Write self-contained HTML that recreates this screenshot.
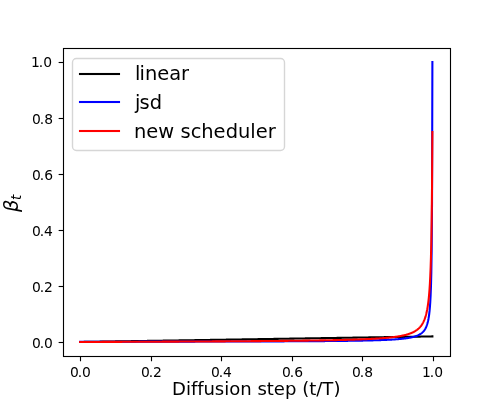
<!DOCTYPE html>
<html lang="en">
<head>
<meta charset="utf-8">
<title>Beta schedules</title>
<style>
html,body{margin:0;padding:0;background:#fff;}
body{width:500px;height:400px;overflow:hidden;}
svg{display:block;}
svg text{font-family:"DejaVu Sans", "Liberation Sans", sans-serif;fill:#000;font-variant-ligatures:none;}
.tk{font-size:13.889px;}
.lg{font-size:19.444px;}
</style>
</head>
<body>
<svg width="500" height="400" viewBox="0 0 500 400">
<rect x="0" y="0" width="500" height="400" fill="#fff"/>
<defs><clipPath id="ax"><rect x="62.5" y="48.0" width="387.5" height="308.0"/></clipPath></defs>
<g clip-path="url(#ax)" fill="none" stroke-width="2.083" stroke-linecap="square" stroke-linejoin="round">
<path d="M80.11 341.97 L80.47 341.97 L80.82 341.96 L81.17 341.96 L81.52 341.95 L81.88 341.94 L82.23 341.94 L82.58 341.93 L82.93 341.93 L83.29 341.92 L83.64 341.92 L83.99 341.91 L84.35 341.91 L84.70 341.90 L85.05 341.89 L85.40 341.89 L85.76 341.88 L86.11 341.88 L86.46 341.87 L86.81 341.87 L87.17 341.86 L87.52 341.86 L87.87 341.85 L88.22 341.84 L88.58 341.84 L88.93 341.83 L89.28 341.83 L89.63 341.82 L89.99 341.82 L90.34 341.81 L90.69 341.81 L91.05 341.80 L91.40 341.79 L91.75 341.79 L92.10 341.78 L92.46 341.78 L92.81 341.77 L93.16 341.77 L93.51 341.76 L93.87 341.76 L94.22 341.75 L94.57 341.74 L94.92 341.74 L95.28 341.73 L95.63 341.73 L95.98 341.72 L96.33 341.72 L96.69 341.71 L97.04 341.70 L97.39 341.70 L97.74 341.69 L98.10 341.69 L98.45 341.68 L98.80 341.68 L99.16 341.67 L99.51 341.67 L99.86 341.66 L100.21 341.65 L100.57 341.65 L100.92 341.64 L101.27 341.64 L101.62 341.63 L101.98 341.63 L102.33 341.62 L102.68 341.62 L103.03 341.61 L103.39 341.60 L103.74 341.60 L104.09 341.59 L104.44 341.59 L104.80 341.58 L105.15 341.58 L105.50 341.57 L105.86 341.57 L106.21 341.56 L106.56 341.55 L106.91 341.55 L107.27 341.54 L107.62 341.54 L107.97 341.53 L108.32 341.53 L108.68 341.52 L109.03 341.52 L109.38 341.51 L109.73 341.50 L110.09 341.50 L110.44 341.49 L110.79 341.49 L111.14 341.48 L111.50 341.48 L111.85 341.47 L112.20 341.47 L112.56 341.46 L112.91 341.45 L113.26 341.45 L113.61 341.44 L113.97 341.44 L114.32 341.43 L114.67 341.43 L115.02 341.42 L115.38 341.41 L115.73 341.41 L116.08 341.40 L116.43 341.40 L116.79 341.39 L117.14 341.39 L117.49 341.38 L117.84 341.38 L118.20 341.37 L118.55 341.36 L118.90 341.36 L119.26 341.35 L119.61 341.35 L119.96 341.34 L120.31 341.34 L120.67 341.33 L121.02 341.33 L121.37 341.32 L121.72 341.31 L122.08 341.31 L122.43 341.30 L122.78 341.30 L123.13 341.29 L123.49 341.29 L123.84 341.28 L124.19 341.28 L124.54 341.27 L124.90 341.26 L125.25 341.26 L125.60 341.25 L125.95 341.25 L126.31 341.24 L126.66 341.24 L127.01 341.23 L127.37 341.23 L127.72 341.22 L128.07 341.21 L128.42 341.21 L128.78 341.20 L129.13 341.20 L129.48 341.19 L129.83 341.19 L130.19 341.18 L130.54 341.18 L130.89 341.17 L131.24 341.16 L131.60 341.16 L131.95 341.15 L132.30 341.15 L132.65 341.14 L133.01 341.14 L133.36 341.13 L133.71 341.12 L134.07 341.12 L134.42 341.11 L134.77 341.11 L135.12 341.10 L135.48 341.10 L135.83 341.09 L136.18 341.09 L136.53 341.08 L136.89 341.07 L137.24 341.07 L137.59 341.06 L137.94 341.06 L138.30 341.05 L138.65 341.05 L139.00 341.04 L139.35 341.04 L139.71 341.03 L140.06 341.02 L140.41 341.02 L140.77 341.01 L141.12 341.01 L141.47 341.00 L141.82 341.00 L142.18 340.99 L142.53 340.99 L142.88 340.98 L143.23 340.97 L143.59 340.97 L143.94 340.96 L144.29 340.96 L144.64 340.95 L145.00 340.95 L145.35 340.94 L145.70 340.94 L146.05 340.93 L146.41 340.92 L146.76 340.92 L147.11 340.91 L147.47 340.91 L147.82 340.90 L148.17 340.90 L148.52 340.89 L148.88 340.89 L149.23 340.88 L149.58 340.87 L149.93 340.87 L150.29 340.86 L150.64 340.86 L150.99 340.85 L151.34 340.85 L151.70 340.84 L152.05 340.83 L152.40 340.83 L152.75 340.82 L153.11 340.82 L153.46 340.81 L153.81 340.81 L154.16 340.80 L154.52 340.80 L154.87 340.79 L155.22 340.78 L155.58 340.78 L155.93 340.77 L156.28 340.77 L156.63 340.76 L156.99 340.76 L157.34 340.75 L157.69 340.75 L158.04 340.74 L158.40 340.73 L158.75 340.73 L159.10 340.72 L159.45 340.72 L159.81 340.71 L160.16 340.71 L160.51 340.70 L160.86 340.70 L161.22 340.69 L161.57 340.68 L161.92 340.68 L162.28 340.67 L162.63 340.67 L162.98 340.66 L163.33 340.66 L163.69 340.65 L164.04 340.65 L164.39 340.64 L164.74 340.63 L165.10 340.63 L165.45 340.62 L165.80 340.62 L166.15 340.61 L166.51 340.61 L166.86 340.60 L167.21 340.60 L167.56 340.59 L167.92 340.58 L168.27 340.58 L168.62 340.57 L168.98 340.57 L169.33 340.56 L169.68 340.56 L170.03 340.55 L170.39 340.54 L170.74 340.54 L171.09 340.53 L171.44 340.53 L171.80 340.52 L172.15 340.52 L172.50 340.51 L172.85 340.51 L173.21 340.50 L173.56 340.49 L173.91 340.49 L174.26 340.48 L174.62 340.48 L174.97 340.47 L175.32 340.47 L175.68 340.46 L176.03 340.46 L176.38 340.45 L176.73 340.44 L177.09 340.44 L177.44 340.43 L177.79 340.43 L178.14 340.42 L178.50 340.42 L178.85 340.41 L179.20 340.41 L179.55 340.40 L179.91 340.39 L180.26 340.39 L180.61 340.38 L180.96 340.38 L181.32 340.37 L181.67 340.37 L182.02 340.36 L182.37 340.36 L182.73 340.35 L183.08 340.34 L183.43 340.34 L183.79 340.33 L184.14 340.33 L184.49 340.32 L184.84 340.32 L185.20 340.31 L185.55 340.30 L185.90 340.30 L186.25 340.29 L186.61 340.29 L186.96 340.28 L187.31 340.28 L187.66 340.27 L188.02 340.27 L188.37 340.26 L188.72 340.25 L189.07 340.25 L189.43 340.24 L189.78 340.24 L190.13 340.23 L190.49 340.23 L190.84 340.22 L191.19 340.22 L191.54 340.21 L191.90 340.20 L192.25 340.20 L192.60 340.19 L192.95 340.19 L193.31 340.18 L193.66 340.18 L194.01 340.17 L194.36 340.17 L194.72 340.16 L195.07 340.15 L195.42 340.15 L195.77 340.14 L196.13 340.14 L196.48 340.13 L196.83 340.13 L197.19 340.12 L197.54 340.12 L197.89 340.11 L198.24 340.10 L198.60 340.10 L198.95 340.09 L199.30 340.09 L199.65 340.08 L200.01 340.08 L200.36 340.07 L200.71 340.07 L201.06 340.06 L201.42 340.05 L201.77 340.05 L202.12 340.04 L202.47 340.04 L202.83 340.03 L203.18 340.03 L203.53 340.02 L203.89 340.01 L204.24 340.01 L204.59 340.00 L204.94 340.00 L205.30 339.99 L205.65 339.99 L206.00 339.98 L206.35 339.98 L206.71 339.97 L207.06 339.96 L207.41 339.96 L207.76 339.95 L208.12 339.95 L208.47 339.94 L208.82 339.94 L209.17 339.93 L209.53 339.93 L209.88 339.92 L210.23 339.91 L210.59 339.91 L210.94 339.90 L211.29 339.90 L211.64 339.89 L212.00 339.89 L212.35 339.88 L212.70 339.88 L213.05 339.87 L213.41 339.86 L213.76 339.86 L214.11 339.85 L214.46 339.85 L214.82 339.84 L215.17 339.84 L215.52 339.83 L215.87 339.83 L216.23 339.82 L216.58 339.81 L216.93 339.81 L217.28 339.80 L217.64 339.80 L217.99 339.79 L218.34 339.79 L218.70 339.78 L219.05 339.78 L219.40 339.77 L219.75 339.76 L220.11 339.76 L220.46 339.75 L220.81 339.75 L221.16 339.74 L221.52 339.74 L221.87 339.73 L222.22 339.72 L222.57 339.72 L222.93 339.71 L223.28 339.71 L223.63 339.70 L223.98 339.70 L224.34 339.69 L224.69 339.69 L225.04 339.68 L225.40 339.67 L225.75 339.67 L226.10 339.66 L226.45 339.66 L226.81 339.65 L227.16 339.65 L227.51 339.64 L227.86 339.64 L228.22 339.63 L228.57 339.62 L228.92 339.62 L229.27 339.61 L229.63 339.61 L229.98 339.60 L230.33 339.60 L230.68 339.59 L231.04 339.59 L231.39 339.58 L231.74 339.57 L232.10 339.57 L232.45 339.56 L232.80 339.56 L233.15 339.55 L233.51 339.55 L233.86 339.54 L234.21 339.54 L234.56 339.53 L234.92 339.52 L235.27 339.52 L235.62 339.51 L235.97 339.51 L236.33 339.50 L236.68 339.50 L237.03 339.49 L237.38 339.49 L237.74 339.48 L238.09 339.47 L238.44 339.47 L238.80 339.46 L239.15 339.46 L239.50 339.45 L239.85 339.45 L240.21 339.44 L240.56 339.43 L240.91 339.43 L241.26 339.42 L241.62 339.42 L241.97 339.41 L242.32 339.41 L242.67 339.40 L243.03 339.40 L243.38 339.39 L243.73 339.38 L244.08 339.38 L244.44 339.37 L244.79 339.37 L245.14 339.36 L245.49 339.36 L245.85 339.35 L246.20 339.35 L246.55 339.34 L246.91 339.33 L247.26 339.33 L247.61 339.32 L247.96 339.32 L248.32 339.31 L248.67 339.31 L249.02 339.30 L249.37 339.30 L249.73 339.29 L250.08 339.28 L250.43 339.28 L250.78 339.27 L251.14 339.27 L251.49 339.26 L251.84 339.26 L252.19 339.25 L252.55 339.25 L252.90 339.24 L253.25 339.23 L253.61 339.23 L253.96 339.22 L254.31 339.22 L254.66 339.21 L255.02 339.21 L255.37 339.20 L255.72 339.20 L256.07 339.19 L256.43 339.18 L256.78 339.18 L257.13 339.17 L257.48 339.17 L257.84 339.16 L258.19 339.16 L258.54 339.15 L258.89 339.14 L259.25 339.14 L259.60 339.13 L259.95 339.13 L260.31 339.12 L260.66 339.12 L261.01 339.11 L261.36 339.11 L261.72 339.10 L262.07 339.09 L262.42 339.09 L262.77 339.08 L263.13 339.08 L263.48 339.07 L263.83 339.07 L264.18 339.06 L264.54 339.06 L264.89 339.05 L265.24 339.04 L265.59 339.04 L265.95 339.03 L266.30 339.03 L266.65 339.02 L267.01 339.02 L267.36 339.01 L267.71 339.01 L268.06 339.00 L268.42 338.99 L268.77 338.99 L269.12 338.98 L269.47 338.98 L269.83 338.97 L270.18 338.97 L270.53 338.96 L270.88 338.96 L271.24 338.95 L271.59 338.94 L271.94 338.94 L272.29 338.93 L272.65 338.93 L273.00 338.92 L273.35 338.92 L273.70 338.91 L274.06 338.91 L274.41 338.90 L274.76 338.89 L275.12 338.89 L275.47 338.88 L275.82 338.88 L276.17 338.87 L276.53 338.87 L276.88 338.86 L277.23 338.85 L277.58 338.85 L277.94 338.84 L278.29 338.84 L278.64 338.83 L278.99 338.83 L279.35 338.82 L279.70 338.82 L280.05 338.81 L280.40 338.80 L280.76 338.80 L281.11 338.79 L281.46 338.79 L281.82 338.78 L282.17 338.78 L282.52 338.77 L282.87 338.77 L283.23 338.76 L283.58 338.75 L283.93 338.75 L284.28 338.74 L284.64 338.74 L284.99 338.73 L285.34 338.73 L285.69 338.72 L286.05 338.72 L286.40 338.71 L286.75 338.70 L287.10 338.70 L287.46 338.69 L287.81 338.69 L288.16 338.68 L288.52 338.68 L288.87 338.67 L289.22 338.67 L289.57 338.66 L289.93 338.65 L290.28 338.65 L290.63 338.64 L290.98 338.64 L291.34 338.63 L291.69 338.63 L292.04 338.62 L292.39 338.61 L292.75 338.61 L293.10 338.60 L293.45 338.60 L293.80 338.59 L294.16 338.59 L294.51 338.58 L294.86 338.58 L295.22 338.57 L295.57 338.56 L295.92 338.56 L296.27 338.55 L296.63 338.55 L296.98 338.54 L297.33 338.54 L297.68 338.53 L298.04 338.53 L298.39 338.52 L298.74 338.51 L299.09 338.51 L299.45 338.50 L299.80 338.50 L300.15 338.49 L300.50 338.49 L300.86 338.48 L301.21 338.48 L301.56 338.47 L301.91 338.46 L302.27 338.46 L302.62 338.45 L302.97 338.45 L303.33 338.44 L303.68 338.44 L304.03 338.43 L304.38 338.43 L304.74 338.42 L305.09 338.41 L305.44 338.41 L305.79 338.40 L306.15 338.40 L306.50 338.39 L306.85 338.39 L307.20 338.38 L307.56 338.38 L307.91 338.37 L308.26 338.36 L308.61 338.36 L308.97 338.35 L309.32 338.35 L309.67 338.34 L310.03 338.34 L310.38 338.33 L310.73 338.32 L311.08 338.32 L311.44 338.31 L311.79 338.31 L312.14 338.30 L312.49 338.30 L312.85 338.29 L313.20 338.29 L313.55 338.28 L313.90 338.27 L314.26 338.27 L314.61 338.26 L314.96 338.26 L315.31 338.25 L315.67 338.25 L316.02 338.24 L316.37 338.24 L316.73 338.23 L317.08 338.22 L317.43 338.22 L317.78 338.21 L318.14 338.21 L318.49 338.20 L318.84 338.20 L319.19 338.19 L319.55 338.19 L319.90 338.18 L320.25 338.17 L320.60 338.17 L320.96 338.16 L321.31 338.16 L321.66 338.15 L322.01 338.15 L322.37 338.14 L322.72 338.14 L323.07 338.13 L323.43 338.12 L323.78 338.12 L324.13 338.11 L324.48 338.11 L324.84 338.10 L325.19 338.10 L325.54 338.09 L325.89 338.09 L326.25 338.08 L326.60 338.07 L326.95 338.07 L327.30 338.06 L327.66 338.06 L328.01 338.05 L328.36 338.05 L328.71 338.04 L329.07 338.03 L329.42 338.03 L329.77 338.02 L330.13 338.02 L330.48 338.01 L330.83 338.01 L331.18 338.00 L331.54 338.00 L331.89 337.99 L332.24 337.98 L332.59 337.98 L332.95 337.97 L333.30 337.97 L333.65 337.96 L334.00 337.96 L334.36 337.95 L334.71 337.95 L335.06 337.94 L335.41 337.93 L335.77 337.93 L336.12 337.92 L336.47 337.92 L336.82 337.91 L337.18 337.91 L337.53 337.90 L337.88 337.90 L338.24 337.89 L338.59 337.88 L338.94 337.88 L339.29 337.87 L339.65 337.87 L340.00 337.86 L340.35 337.86 L340.70 337.85 L341.06 337.85 L341.41 337.84 L341.76 337.83 L342.11 337.83 L342.47 337.82 L342.82 337.82 L343.17 337.81 L343.52 337.81 L343.88 337.80 L344.23 337.80 L344.58 337.79 L344.94 337.78 L345.29 337.78 L345.64 337.77 L345.99 337.77 L346.35 337.76 L346.70 337.76 L347.05 337.75 L347.40 337.74 L347.76 337.74 L348.11 337.73 L348.46 337.73 L348.81 337.72 L349.17 337.72 L349.52 337.71 L349.87 337.71 L350.22 337.70 L350.58 337.69 L350.93 337.69 L351.28 337.68 L351.64 337.68 L351.99 337.67 L352.34 337.67 L352.69 337.66 L353.05 337.66 L353.40 337.65 L353.75 337.64 L354.10 337.64 L354.46 337.63 L354.81 337.63 L355.16 337.62 L355.51 337.62 L355.87 337.61 L356.22 337.61 L356.57 337.60 L356.92 337.59 L357.28 337.59 L357.63 337.58 L357.98 337.58 L358.34 337.57 L358.69 337.57 L359.04 337.56 L359.39 337.56 L359.75 337.55 L360.10 337.54 L360.45 337.54 L360.80 337.53 L361.16 337.53 L361.51 337.52 L361.86 337.52 L362.21 337.51 L362.57 337.51 L362.92 337.50 L363.27 337.49 L363.62 337.49 L363.98 337.48 L364.33 337.48 L364.68 337.47 L365.03 337.47 L365.39 337.46 L365.74 337.45 L366.09 337.45 L366.45 337.44 L366.80 337.44 L367.15 337.43 L367.50 337.43 L367.86 337.42 L368.21 337.42 L368.56 337.41 L368.91 337.40 L369.27 337.40 L369.62 337.39 L369.97 337.39 L370.32 337.38 L370.68 337.38 L371.03 337.37 L371.38 337.37 L371.73 337.36 L372.09 337.35 L372.44 337.35 L372.79 337.34 L373.15 337.34 L373.50 337.33 L373.85 337.33 L374.20 337.32 L374.56 337.32 L374.91 337.31 L375.26 337.30 L375.61 337.30 L375.97 337.29 L376.32 337.29 L376.67 337.28 L377.02 337.28 L377.38 337.27 L377.73 337.27 L378.08 337.26 L378.43 337.25 L378.79 337.25 L379.14 337.24 L379.49 337.24 L379.85 337.23 L380.20 337.23 L380.55 337.22 L380.90 337.22 L381.26 337.21 L381.61 337.20 L381.96 337.20 L382.31 337.19 L382.67 337.19 L383.02 337.18 L383.37 337.18 L383.72 337.17 L384.08 337.16 L384.43 337.16 L384.78 337.15 L385.13 337.15 L385.49 337.14 L385.84 337.14 L386.19 337.13 L386.55 337.13 L386.90 337.12 L387.25 337.11 L387.60 337.11 L387.96 337.10 L388.31 337.10 L388.66 337.09 L389.01 337.09 L389.37 337.08 L389.72 337.08 L390.07 337.07 L390.42 337.06 L390.78 337.06 L391.13 337.05 L391.48 337.05 L391.83 337.04 L392.19 337.04 L392.54 337.03 L392.89 337.03 L393.24 337.02 L393.60 337.01 L393.95 337.01 L394.30 337.00 L394.66 337.00 L395.01 336.99 L395.36 336.99 L395.71 336.98 L396.07 336.98 L396.42 336.97 L396.77 336.96 L397.12 336.96 L397.48 336.95 L397.83 336.95 L398.18 336.94 L398.53 336.94 L398.89 336.93 L399.24 336.92 L399.59 336.92 L399.94 336.91 L400.30 336.91 L400.65 336.90 L401.00 336.90 L401.36 336.89 L401.71 336.89 L402.06 336.88 L402.41 336.87 L402.77 336.87 L403.12 336.86 L403.47 336.86 L403.82 336.85 L404.18 336.85 L404.53 336.84 L404.88 336.84 L405.23 336.83 L405.59 336.82 L405.94 336.82 L406.29 336.81 L406.64 336.81 L407.00 336.80 L407.35 336.80 L407.70 336.79 L408.06 336.79 L408.41 336.78 L408.76 336.77 L409.11 336.77 L409.47 336.76 L409.82 336.76 L410.17 336.75 L410.52 336.75 L410.88 336.74 L411.23 336.74 L411.58 336.73 L411.93 336.72 L412.29 336.72 L412.64 336.71 L412.99 336.71 L413.34 336.70 L413.70 336.70 L414.05 336.69 L414.40 336.69 L414.76 336.68 L415.11 336.67 L415.46 336.67 L415.81 336.66 L416.17 336.66 L416.52 336.65 L416.87 336.65 L417.22 336.64 L417.58 336.63 L417.93 336.63 L418.28 336.62 L418.63 336.62 L418.99 336.61 L419.34 336.61 L419.69 336.60 L420.04 336.60 L420.40 336.59 L420.75 336.58 L421.10 336.58 L421.45 336.57 L421.81 336.57 L422.16 336.56 L422.51 336.56 L422.87 336.55 L423.22 336.55 L423.57 336.54 L423.92 336.53 L424.28 336.53 L424.63 336.52 L424.98 336.52 L425.33 336.51 L425.69 336.51 L426.04 336.50 L426.39 336.50 L426.74 336.49 L427.10 336.48 L427.45 336.48 L427.80 336.47 L428.15 336.47 L428.51 336.46 L428.86 336.46 L429.21 336.45 L429.57 336.45 L429.92 336.44 L430.27 336.43 L430.62 336.43 L430.98 336.42 L431.33 336.42 L431.68 336.41 L432.03 336.41 L432.39 336.40" stroke="#000"/>
<path d="M80.11 341.72 L80.47 341.72 L80.82 341.72 L81.17 341.72 L81.52 341.72 L81.88 341.72 L82.23 341.72 L82.58 341.72 L82.93 341.72 L83.29 341.72 L83.64 341.72 L83.99 341.72 L84.35 341.72 L84.70 341.72 L85.05 341.72 L85.40 341.72 L85.76 341.72 L86.11 341.72 L86.46 341.72 L86.81 341.72 L87.17 341.71 L87.52 341.71 L87.87 341.71 L88.22 341.71 L88.58 341.71 L88.93 341.71 L89.28 341.71 L89.63 341.71 L89.99 341.71 L90.34 341.71 L90.69 341.71 L91.05 341.71 L91.40 341.71 L91.75 341.71 L92.10 341.71 L92.46 341.71 L92.81 341.71 L93.16 341.71 L93.51 341.71 L93.87 341.71 L94.22 341.71 L94.57 341.71 L94.92 341.71 L95.28 341.71 L95.63 341.71 L95.98 341.71 L96.33 341.71 L96.69 341.71 L97.04 341.71 L97.39 341.71 L97.74 341.71 L98.10 341.71 L98.45 341.71 L98.80 341.71 L99.16 341.70 L99.51 341.70 L99.86 341.70 L100.21 341.70 L100.57 341.70 L100.92 341.70 L101.27 341.70 L101.62 341.70 L101.98 341.70 L102.33 341.70 L102.68 341.70 L103.03 341.70 L103.39 341.70 L103.74 341.70 L104.09 341.70 L104.44 341.70 L104.80 341.70 L105.15 341.70 L105.50 341.70 L105.86 341.70 L106.21 341.70 L106.56 341.70 L106.91 341.70 L107.27 341.70 L107.62 341.70 L107.97 341.70 L108.32 341.70 L108.68 341.70 L109.03 341.70 L109.38 341.70 L109.73 341.70 L110.09 341.69 L110.44 341.69 L110.79 341.69 L111.14 341.69 L111.50 341.69 L111.85 341.69 L112.20 341.69 L112.56 341.69 L112.91 341.69 L113.26 341.69 L113.61 341.69 L113.97 341.69 L114.32 341.69 L114.67 341.69 L115.02 341.69 L115.38 341.69 L115.73 341.69 L116.08 341.69 L116.43 341.69 L116.79 341.69 L117.14 341.69 L117.49 341.69 L117.84 341.69 L118.20 341.69 L118.55 341.69 L118.90 341.69 L119.26 341.69 L119.61 341.69 L119.96 341.69 L120.31 341.68 L120.67 341.68 L121.02 341.68 L121.37 341.68 L121.72 341.68 L122.08 341.68 L122.43 341.68 L122.78 341.68 L123.13 341.68 L123.49 341.68 L123.84 341.68 L124.19 341.68 L124.54 341.68 L124.90 341.68 L125.25 341.68 L125.60 341.68 L125.95 341.68 L126.31 341.68 L126.66 341.68 L127.01 341.68 L127.37 341.68 L127.72 341.68 L128.07 341.68 L128.42 341.68 L128.78 341.68 L129.13 341.68 L129.48 341.68 L129.83 341.67 L130.19 341.67 L130.54 341.67 L130.89 341.67 L131.24 341.67 L131.60 341.67 L131.95 341.67 L132.30 341.67 L132.65 341.67 L133.01 341.67 L133.36 341.67 L133.71 341.67 L134.07 341.67 L134.42 341.67 L134.77 341.67 L135.12 341.67 L135.48 341.67 L135.83 341.67 L136.18 341.67 L136.53 341.67 L136.89 341.67 L137.24 341.67 L137.59 341.67 L137.94 341.67 L138.30 341.67 L138.65 341.66 L139.00 341.66 L139.35 341.66 L139.71 341.66 L140.06 341.66 L140.41 341.66 L140.77 341.66 L141.12 341.66 L141.47 341.66 L141.82 341.66 L142.18 341.66 L142.53 341.66 L142.88 341.66 L143.23 341.66 L143.59 341.66 L143.94 341.66 L144.29 341.66 L144.64 341.66 L145.00 341.66 L145.35 341.66 L145.70 341.66 L146.05 341.66 L146.41 341.66 L146.76 341.66 L147.11 341.66 L147.47 341.65 L147.82 341.65 L148.17 341.65 L148.52 341.65 L148.88 341.65 L149.23 341.65 L149.58 341.65 L149.93 341.65 L150.29 341.65 L150.64 341.65 L150.99 341.65 L151.34 341.65 L151.70 341.65 L152.05 341.65 L152.40 341.65 L152.75 341.65 L153.11 341.65 L153.46 341.65 L153.81 341.65 L154.16 341.65 L154.52 341.65 L154.87 341.65 L155.22 341.64 L155.58 341.64 L155.93 341.64 L156.28 341.64 L156.63 341.64 L156.99 341.64 L157.34 341.64 L157.69 341.64 L158.04 341.64 L158.40 341.64 L158.75 341.64 L159.10 341.64 L159.45 341.64 L159.81 341.64 L160.16 341.64 L160.51 341.64 L160.86 341.64 L161.22 341.64 L161.57 341.64 L161.92 341.64 L162.28 341.64 L162.63 341.64 L162.98 341.63 L163.33 341.63 L163.69 341.63 L164.04 341.63 L164.39 341.63 L164.74 341.63 L165.10 341.63 L165.45 341.63 L165.80 341.63 L166.15 341.63 L166.51 341.63 L166.86 341.63 L167.21 341.63 L167.56 341.63 L167.92 341.63 L168.27 341.63 L168.62 341.63 L168.98 341.63 L169.33 341.63 L169.68 341.63 L170.03 341.62 L170.39 341.62 L170.74 341.62 L171.09 341.62 L171.44 341.62 L171.80 341.62 L172.15 341.62 L172.50 341.62 L172.85 341.62 L173.21 341.62 L173.56 341.62 L173.91 341.62 L174.26 341.62 L174.62 341.62 L174.97 341.62 L175.32 341.62 L175.68 341.62 L176.03 341.62 L176.38 341.62 L176.73 341.62 L177.09 341.61 L177.44 341.61 L177.79 341.61 L178.14 341.61 L178.50 341.61 L178.85 341.61 L179.20 341.61 L179.55 341.61 L179.91 341.61 L180.26 341.61 L180.61 341.61 L180.96 341.61 L181.32 341.61 L181.67 341.61 L182.02 341.61 L182.37 341.61 L182.73 341.61 L183.08 341.61 L183.43 341.60 L183.79 341.60 L184.14 341.60 L184.49 341.60 L184.84 341.60 L185.20 341.60 L185.55 341.60 L185.90 341.60 L186.25 341.60 L186.61 341.60 L186.96 341.60 L187.31 341.60 L187.66 341.60 L188.02 341.60 L188.37 341.60 L188.72 341.60 L189.07 341.60 L189.43 341.59 L189.78 341.59 L190.13 341.59 L190.49 341.59 L190.84 341.59 L191.19 341.59 L191.54 341.59 L191.90 341.59 L192.25 341.59 L192.60 341.59 L192.95 341.59 L193.31 341.59 L193.66 341.59 L194.01 341.59 L194.36 341.59 L194.72 341.59 L195.07 341.59 L195.42 341.58 L195.77 341.58 L196.13 341.58 L196.48 341.58 L196.83 341.58 L197.19 341.58 L197.54 341.58 L197.89 341.58 L198.24 341.58 L198.60 341.58 L198.95 341.58 L199.30 341.58 L199.65 341.58 L200.01 341.58 L200.36 341.58 L200.71 341.58 L201.06 341.57 L201.42 341.57 L201.77 341.57 L202.12 341.57 L202.47 341.57 L202.83 341.57 L203.18 341.57 L203.53 341.57 L203.89 341.57 L204.24 341.57 L204.59 341.57 L204.94 341.57 L205.30 341.57 L205.65 341.57 L206.00 341.57 L206.35 341.56 L206.71 341.56 L207.06 341.56 L207.41 341.56 L207.76 341.56 L208.12 341.56 L208.47 341.56 L208.82 341.56 L209.17 341.56 L209.53 341.56 L209.88 341.56 L210.23 341.56 L210.59 341.56 L210.94 341.56 L211.29 341.55 L211.64 341.55 L212.00 341.55 L212.35 341.55 L212.70 341.55 L213.05 341.55 L213.41 341.55 L213.76 341.55 L214.11 341.55 L214.46 341.55 L214.82 341.55 L215.17 341.55 L215.52 341.55 L215.87 341.55 L216.23 341.54 L216.58 341.54 L216.93 341.54 L217.28 341.54 L217.64 341.54 L217.99 341.54 L218.34 341.54 L218.70 341.54 L219.05 341.54 L219.40 341.54 L219.75 341.54 L220.11 341.54 L220.46 341.54 L220.81 341.53 L221.16 341.53 L221.52 341.53 L221.87 341.53 L222.22 341.53 L222.57 341.53 L222.93 341.53 L223.28 341.53 L223.63 341.53 L223.98 341.53 L224.34 341.53 L224.69 341.53 L225.04 341.53 L225.40 341.52 L225.75 341.52 L226.10 341.52 L226.45 341.52 L226.81 341.52 L227.16 341.52 L227.51 341.52 L227.86 341.52 L228.22 341.52 L228.57 341.52 L228.92 341.52 L229.27 341.52 L229.63 341.51 L229.98 341.51 L230.33 341.51 L230.68 341.51 L231.04 341.51 L231.39 341.51 L231.74 341.51 L232.10 341.51 L232.45 341.51 L232.80 341.51 L233.15 341.51 L233.51 341.51 L233.86 341.50 L234.21 341.50 L234.56 341.50 L234.92 341.50 L235.27 341.50 L235.62 341.50 L235.97 341.50 L236.33 341.50 L236.68 341.50 L237.03 341.50 L237.38 341.50 L237.74 341.49 L238.09 341.49 L238.44 341.49 L238.80 341.49 L239.15 341.49 L239.50 341.49 L239.85 341.49 L240.21 341.49 L240.56 341.49 L240.91 341.49 L241.26 341.49 L241.62 341.48 L241.97 341.48 L242.32 341.48 L242.67 341.48 L243.03 341.48 L243.38 341.48 L243.73 341.48 L244.08 341.48 L244.44 341.48 L244.79 341.48 L245.14 341.47 L245.49 341.47 L245.85 341.47 L246.20 341.47 L246.55 341.47 L246.91 341.47 L247.26 341.47 L247.61 341.47 L247.96 341.47 L248.32 341.47 L248.67 341.46 L249.02 341.46 L249.37 341.46 L249.73 341.46 L250.08 341.46 L250.43 341.46 L250.78 341.46 L251.14 341.46 L251.49 341.46 L251.84 341.45 L252.19 341.45 L252.55 341.45 L252.90 341.45 L253.25 341.45 L253.61 341.45 L253.96 341.45 L254.31 341.45 L254.66 341.45 L255.02 341.45 L255.37 341.44 L255.72 341.44 L256.07 341.44 L256.43 341.44 L256.78 341.44 L257.13 341.44 L257.48 341.44 L257.84 341.44 L258.19 341.44 L258.54 341.43 L258.89 341.43 L259.25 341.43 L259.60 341.43 L259.95 341.43 L260.31 341.43 L260.66 341.43 L261.01 341.43 L261.36 341.42 L261.72 341.42 L262.07 341.42 L262.42 341.42 L262.77 341.42 L263.13 341.42 L263.48 341.42 L263.83 341.42 L264.18 341.41 L264.54 341.41 L264.89 341.41 L265.24 341.41 L265.59 341.41 L265.95 341.41 L266.30 341.41 L266.65 341.41 L267.01 341.40 L267.36 341.40 L267.71 341.40 L268.06 341.40 L268.42 341.40 L268.77 341.40 L269.12 341.40 L269.47 341.40 L269.83 341.39 L270.18 341.39 L270.53 341.39 L270.88 341.39 L271.24 341.39 L271.59 341.39 L271.94 341.39 L272.29 341.39 L272.65 341.38 L273.00 341.38 L273.35 341.38 L273.70 341.38 L274.06 341.38 L274.41 341.38 L274.76 341.38 L275.12 341.37 L275.47 341.37 L275.82 341.37 L276.17 341.37 L276.53 341.37 L276.88 341.37 L277.23 341.37 L277.58 341.36 L277.94 341.36 L278.29 341.36 L278.64 341.36 L278.99 341.36 L279.35 341.36 L279.70 341.36 L280.05 341.35 L280.40 341.35 L280.76 341.35 L281.11 341.35 L281.46 341.35 L281.82 341.35 L282.17 341.34 L282.52 341.34 L282.87 341.34 L283.23 341.34 L283.58 341.34 L283.93 341.34 L284.28 341.34 L284.64 341.33 L284.99 341.33 L285.34 341.33 L285.69 341.33 L286.05 341.33 L286.40 341.33 L286.75 341.32 L287.10 341.32 L287.46 341.32 L287.81 341.32 L288.16 341.32 L288.52 341.32 L288.87 341.31 L289.22 341.31 L289.57 341.31 L289.93 341.31 L290.28 341.31 L290.63 341.31 L290.98 341.30 L291.34 341.30 L291.69 341.30 L292.04 341.30 L292.39 341.30 L292.75 341.30 L293.10 341.29 L293.45 341.29 L293.80 341.29 L294.16 341.29 L294.51 341.29 L294.86 341.28 L295.22 341.28 L295.57 341.28 L295.92 341.28 L296.27 341.28 L296.63 341.28 L296.98 341.27 L297.33 341.27 L297.68 341.27 L298.04 341.27 L298.39 341.27 L298.74 341.26 L299.09 341.26 L299.45 341.26 L299.80 341.26 L300.15 341.26 L300.50 341.25 L300.86 341.25 L301.21 341.25 L301.56 341.25 L301.91 341.25 L302.27 341.24 L302.62 341.24 L302.97 341.24 L303.33 341.24 L303.68 341.24 L304.03 341.23 L304.38 341.23 L304.74 341.23 L305.09 341.23 L305.44 341.23 L305.79 341.22 L306.15 341.22 L306.50 341.22 L306.85 341.22 L307.20 341.21 L307.56 341.21 L307.91 341.21 L308.26 341.21 L308.61 341.21 L308.97 341.20 L309.32 341.20 L309.67 341.20 L310.03 341.20 L310.38 341.19 L310.73 341.19 L311.08 341.19 L311.44 341.19 L311.79 341.18 L312.14 341.18 L312.49 341.18 L312.85 341.18 L313.20 341.17 L313.55 341.17 L313.90 341.17 L314.26 341.17 L314.61 341.16 L314.96 341.16 L315.31 341.16 L315.67 341.16 L316.02 341.15 L316.37 341.15 L316.73 341.15 L317.08 341.15 L317.43 341.14 L317.78 341.14 L318.14 341.14 L318.49 341.14 L318.84 341.13 L319.19 341.13 L319.55 341.13 L319.90 341.13 L320.25 341.12 L320.60 341.12 L320.96 341.12 L321.31 341.11 L321.66 341.11 L322.01 341.11 L322.37 341.11 L322.72 341.10 L323.07 341.10 L323.43 341.10 L323.78 341.09 L324.13 341.09 L324.48 341.09 L324.84 341.09 L325.19 341.08 L325.54 341.08 L325.89 341.08 L326.25 341.07 L326.60 341.07 L326.95 341.07 L327.30 341.06 L327.66 341.06 L328.01 341.06 L328.36 341.05 L328.71 341.05 L329.07 341.05 L329.42 341.05 L329.77 341.04 L330.13 341.04 L330.48 341.04 L330.83 341.03 L331.18 341.03 L331.54 341.03 L331.89 341.02 L332.24 341.02 L332.59 341.01 L332.95 341.01 L333.30 341.01 L333.65 341.00 L334.00 341.00 L334.36 341.00 L334.71 340.99 L335.06 340.99 L335.41 340.99 L335.77 340.98 L336.12 340.98 L336.47 340.98 L336.82 340.97 L337.18 340.97 L337.53 340.96 L337.88 340.96 L338.24 340.96 L338.59 340.95 L338.94 340.95 L339.29 340.94 L339.65 340.94 L340.00 340.94 L340.35 340.93 L340.70 340.93 L341.06 340.92 L341.41 340.92 L341.76 340.92 L342.11 340.91 L342.47 340.91 L342.82 340.90 L343.17 340.90 L343.52 340.89 L343.88 340.89 L344.23 340.89 L344.58 340.88 L344.94 340.88 L345.29 340.87 L345.64 340.87 L345.99 340.86 L346.35 340.86 L346.70 340.85 L347.05 340.85 L347.40 340.84 L347.76 340.84 L348.11 340.83 L348.46 340.83 L348.81 340.82 L349.17 340.82 L349.52 340.81 L349.87 340.81 L350.22 340.80 L350.58 340.80 L350.93 340.79 L351.28 340.79 L351.64 340.78 L351.99 340.78 L352.34 340.77 L352.69 340.77 L353.05 340.76 L353.40 340.76 L353.75 340.75 L354.10 340.75 L354.46 340.74 L354.81 340.73 L355.16 340.73 L355.51 340.72 L355.87 340.72 L356.22 340.71 L356.57 340.70 L356.92 340.70 L357.28 340.69 L357.63 340.69 L357.98 340.68 L358.34 340.67 L358.69 340.67 L359.04 340.66 L359.39 340.65 L359.75 340.65 L360.10 340.64 L360.45 340.63 L360.80 340.63 L361.16 340.62 L361.51 340.61 L361.86 340.61 L362.21 340.60 L362.57 340.59 L362.92 340.59 L363.27 340.58 L363.62 340.57 L363.98 340.56 L364.33 340.56 L364.68 340.55 L365.03 340.54 L365.39 340.53 L365.74 340.53 L366.09 340.52 L366.45 340.51 L366.80 340.50 L367.15 340.50 L367.50 340.49 L367.86 340.48 L368.21 340.47 L368.56 340.46 L368.91 340.45 L369.27 340.45 L369.62 340.44 L369.97 340.43 L370.32 340.42 L370.68 340.41 L371.03 340.40 L371.38 340.39 L371.73 340.38 L372.09 340.37 L372.44 340.36 L372.79 340.35 L373.15 340.34 L373.50 340.33 L373.85 340.32 L374.20 340.31 L374.56 340.30 L374.91 340.29 L375.26 340.28 L375.61 340.27 L375.97 340.26 L376.32 340.25 L376.67 340.24 L377.02 340.23 L377.38 340.22 L377.73 340.21 L378.08 340.19 L378.43 340.18 L378.79 340.17 L379.14 340.16 L379.49 340.15 L379.85 340.13 L380.20 340.12 L380.55 340.11 L380.90 340.10 L381.26 340.08 L381.61 340.07 L381.96 340.06 L382.31 340.04 L382.67 340.03 L383.02 340.01 L383.37 340.00 L383.72 339.99 L384.08 339.97 L384.43 339.96 L384.78 339.94 L385.13 339.93 L385.49 339.91 L385.84 339.90 L386.19 339.88 L386.55 339.86 L386.90 339.85 L387.25 339.83 L387.60 339.81 L387.96 339.80 L388.31 339.78 L388.66 339.76 L389.01 339.74 L389.37 339.72 L389.72 339.71 L390.07 339.69 L390.42 339.67 L390.78 339.65 L391.13 339.63 L391.48 339.61 L391.83 339.59 L392.19 339.57 L392.54 339.54 L392.89 339.52 L393.24 339.50 L393.60 339.48 L393.95 339.46 L394.30 339.43 L394.66 339.41 L395.01 339.38 L395.36 339.36 L395.71 339.33 L396.07 339.31 L396.42 339.28 L396.77 339.26 L397.12 339.23 L397.48 339.20 L397.83 339.17 L398.18 339.14 L398.53 339.11 L398.89 339.08 L399.24 339.05 L399.59 339.02 L399.94 338.99 L400.30 338.96 L400.65 338.92 L401.00 338.89 L401.36 338.85 L401.71 338.82 L402.06 338.78 L402.41 338.74 L402.77 338.71 L403.12 338.67 L403.47 338.63 L403.82 338.59 L404.18 338.54 L404.53 338.50 L404.88 338.46 L405.23 338.41 L405.59 338.36 L405.94 338.32 L406.29 338.27 L406.64 338.22 L407.00 338.17 L407.35 338.11 L407.70 338.06 L408.06 338.00 L408.41 337.94 L408.76 337.88 L409.11 337.82 L409.47 337.76 L409.82 337.69 L410.17 337.63 L410.52 337.56 L410.88 337.48 L411.23 337.41 L411.58 337.33 L411.93 337.25 L412.29 337.17 L412.64 337.09 L412.99 337.00 L413.34 336.91 L413.70 336.82 L414.05 336.72 L414.40 336.62 L414.76 336.51 L415.11 336.40 L415.46 336.29 L415.81 336.17 L416.17 336.04 L416.52 335.91 L416.87 335.78 L417.22 335.64 L417.58 335.49 L417.93 335.33 L418.28 335.17 L418.63 335.00 L418.99 334.82 L419.34 334.63 L419.69 334.43 L420.04 334.22 L420.40 334.00 L420.75 333.77 L421.10 333.52 L421.45 333.25 L421.81 332.97 L422.16 332.67 L422.51 332.35 L422.87 332.00 L423.22 331.63 L423.57 331.23 L423.92 330.80 L424.28 330.33 L424.63 329.83 L424.98 329.27 L425.33 328.67 L425.69 328.00 L426.04 327.26 L426.39 326.45 L426.74 325.53 L427.10 324.50 L427.45 323.33 L427.80 322.00 L428.15 320.46 L428.51 318.67 L428.86 316.55 L429.21 314.00 L429.57 310.89 L429.92 307.00 L430.27 302.00 L430.62 295.33 L430.98 286.00 L431.33 272.00 L431.68 248.67 L432.03 202.00 L432.39 62.00" stroke="#00f"/>
<path d="M80.11 342.00 L80.47 342.00 L80.82 342.00 L81.17 342.00 L81.52 341.99 L81.88 341.99 L82.23 341.99 L82.58 341.99 L82.93 341.99 L83.29 341.99 L83.64 341.99 L83.99 341.98 L84.35 341.98 L84.70 341.98 L85.05 341.98 L85.40 341.98 L85.76 341.98 L86.11 341.98 L86.46 341.98 L86.81 341.97 L87.17 341.97 L87.52 341.97 L87.87 341.97 L88.22 341.97 L88.58 341.97 L88.93 341.97 L89.28 341.96 L89.63 341.96 L89.99 341.96 L90.34 341.96 L90.69 341.96 L91.05 341.96 L91.40 341.96 L91.75 341.95 L92.10 341.95 L92.46 341.95 L92.81 341.95 L93.16 341.95 L93.51 341.95 L93.87 341.95 L94.22 341.94 L94.57 341.94 L94.92 341.94 L95.28 341.94 L95.63 341.94 L95.98 341.94 L96.33 341.94 L96.69 341.94 L97.04 341.93 L97.39 341.93 L97.74 341.93 L98.10 341.93 L98.45 341.93 L98.80 341.93 L99.16 341.93 L99.51 341.92 L99.86 341.92 L100.21 341.92 L100.57 341.92 L100.92 341.92 L101.27 341.92 L101.62 341.92 L101.98 341.91 L102.33 341.91 L102.68 341.91 L103.03 341.91 L103.39 341.91 L103.74 341.91 L104.09 341.91 L104.44 341.90 L104.80 341.90 L105.15 341.90 L105.50 341.90 L105.86 341.90 L106.21 341.90 L106.56 341.90 L106.91 341.89 L107.27 341.89 L107.62 341.89 L107.97 341.89 L108.32 341.89 L108.68 341.89 L109.03 341.89 L109.38 341.88 L109.73 341.88 L110.09 341.88 L110.44 341.88 L110.79 341.88 L111.14 341.88 L111.50 341.88 L111.85 341.88 L112.20 341.87 L112.56 341.87 L112.91 341.87 L113.26 341.87 L113.61 341.87 L113.97 341.87 L114.32 341.87 L114.67 341.86 L115.02 341.86 L115.38 341.86 L115.73 341.86 L116.08 341.86 L116.43 341.86 L116.79 341.86 L117.14 341.85 L117.49 341.85 L117.84 341.85 L118.20 341.85 L118.55 341.85 L118.90 341.85 L119.26 341.85 L119.61 341.84 L119.96 341.84 L120.31 341.84 L120.67 341.84 L121.02 341.84 L121.37 341.84 L121.72 341.84 L122.08 341.83 L122.43 341.83 L122.78 341.83 L123.13 341.83 L123.49 341.83 L123.84 341.83 L124.19 341.83 L124.54 341.82 L124.90 341.82 L125.25 341.82 L125.60 341.82 L125.95 341.82 L126.31 341.82 L126.66 341.82 L127.01 341.81 L127.37 341.81 L127.72 341.81 L128.07 341.81 L128.42 341.81 L128.78 341.81 L129.13 341.81 L129.48 341.80 L129.83 341.80 L130.19 341.80 L130.54 341.80 L130.89 341.80 L131.24 341.80 L131.60 341.80 L131.95 341.79 L132.30 341.79 L132.65 341.79 L133.01 341.79 L133.36 341.79 L133.71 341.79 L134.07 341.78 L134.42 341.78 L134.77 341.78 L135.12 341.78 L135.48 341.78 L135.83 341.78 L136.18 341.78 L136.53 341.77 L136.89 341.77 L137.24 341.77 L137.59 341.77 L137.94 341.77 L138.30 341.77 L138.65 341.77 L139.00 341.76 L139.35 341.76 L139.71 341.76 L140.06 341.76 L140.41 341.76 L140.77 341.76 L141.12 341.76 L141.47 341.75 L141.82 341.75 L142.18 341.75 L142.53 341.75 L142.88 341.75 L143.23 341.75 L143.59 341.75 L143.94 341.74 L144.29 341.74 L144.64 341.74 L145.00 341.74 L145.35 341.74 L145.70 341.74 L146.05 341.73 L146.41 341.73 L146.76 341.73 L147.11 341.73 L147.47 341.73 L147.82 341.73 L148.17 341.73 L148.52 341.72 L148.88 341.72 L149.23 341.72 L149.58 341.72 L149.93 341.72 L150.29 341.72 L150.64 341.71 L150.99 341.71 L151.34 341.71 L151.70 341.71 L152.05 341.71 L152.40 341.71 L152.75 341.71 L153.11 341.70 L153.46 341.70 L153.81 341.70 L154.16 341.70 L154.52 341.70 L154.87 341.70 L155.22 341.69 L155.58 341.69 L155.93 341.69 L156.28 341.69 L156.63 341.69 L156.99 341.69 L157.34 341.69 L157.69 341.68 L158.04 341.68 L158.40 341.68 L158.75 341.68 L159.10 341.68 L159.45 341.68 L159.81 341.67 L160.16 341.67 L160.51 341.67 L160.86 341.67 L161.22 341.67 L161.57 341.67 L161.92 341.67 L162.28 341.66 L162.63 341.66 L162.98 341.66 L163.33 341.66 L163.69 341.66 L164.04 341.66 L164.39 341.65 L164.74 341.65 L165.10 341.65 L165.45 341.65 L165.80 341.65 L166.15 341.65 L166.51 341.64 L166.86 341.64 L167.21 341.64 L167.56 341.64 L167.92 341.64 L168.27 341.64 L168.62 341.63 L168.98 341.63 L169.33 341.63 L169.68 341.63 L170.03 341.63 L170.39 341.63 L170.74 341.63 L171.09 341.62 L171.44 341.62 L171.80 341.62 L172.15 341.62 L172.50 341.62 L172.85 341.62 L173.21 341.61 L173.56 341.61 L173.91 341.61 L174.26 341.61 L174.62 341.61 L174.97 341.61 L175.32 341.60 L175.68 341.60 L176.03 341.60 L176.38 341.60 L176.73 341.60 L177.09 341.60 L177.44 341.59 L177.79 341.59 L178.14 341.59 L178.50 341.59 L178.85 341.59 L179.20 341.59 L179.55 341.58 L179.91 341.58 L180.26 341.58 L180.61 341.58 L180.96 341.58 L181.32 341.58 L181.67 341.57 L182.02 341.57 L182.37 341.57 L182.73 341.57 L183.08 341.57 L183.43 341.57 L183.79 341.56 L184.14 341.56 L184.49 341.56 L184.84 341.56 L185.20 341.56 L185.55 341.55 L185.90 341.55 L186.25 341.55 L186.61 341.55 L186.96 341.55 L187.31 341.55 L187.66 341.54 L188.02 341.54 L188.37 341.54 L188.72 341.54 L189.07 341.54 L189.43 341.54 L189.78 341.53 L190.13 341.53 L190.49 341.53 L190.84 341.53 L191.19 341.53 L191.54 341.52 L191.90 341.52 L192.25 341.52 L192.60 341.52 L192.95 341.52 L193.31 341.52 L193.66 341.51 L194.01 341.51 L194.36 341.51 L194.72 341.51 L195.07 341.51 L195.42 341.51 L195.77 341.50 L196.13 341.50 L196.48 341.50 L196.83 341.50 L197.19 341.50 L197.54 341.49 L197.89 341.49 L198.24 341.49 L198.60 341.49 L198.95 341.49 L199.30 341.48 L199.65 341.48 L200.01 341.48 L200.36 341.48 L200.71 341.48 L201.06 341.48 L201.42 341.47 L201.77 341.47 L202.12 341.47 L202.47 341.47 L202.83 341.47 L203.18 341.46 L203.53 341.46 L203.89 341.46 L204.24 341.46 L204.59 341.46 L204.94 341.45 L205.30 341.45 L205.65 341.45 L206.00 341.45 L206.35 341.45 L206.71 341.45 L207.06 341.44 L207.41 341.44 L207.76 341.44 L208.12 341.44 L208.47 341.44 L208.82 341.43 L209.17 341.43 L209.53 341.43 L209.88 341.43 L210.23 341.43 L210.59 341.42 L210.94 341.42 L211.29 341.42 L211.64 341.42 L212.00 341.42 L212.35 341.41 L212.70 341.41 L213.05 341.41 L213.41 341.41 L213.76 341.41 L214.11 341.40 L214.46 341.40 L214.82 341.40 L215.17 341.40 L215.52 341.40 L215.87 341.39 L216.23 341.39 L216.58 341.39 L216.93 341.39 L217.28 341.39 L217.64 341.38 L217.99 341.38 L218.34 341.38 L218.70 341.38 L219.05 341.38 L219.40 341.37 L219.75 341.37 L220.11 341.37 L220.46 341.37 L220.81 341.36 L221.16 341.36 L221.52 341.36 L221.87 341.36 L222.22 341.36 L222.57 341.35 L222.93 341.35 L223.28 341.35 L223.63 341.35 L223.98 341.35 L224.34 341.34 L224.69 341.34 L225.04 341.34 L225.40 341.34 L225.75 341.33 L226.10 341.33 L226.45 341.33 L226.81 341.33 L227.16 341.33 L227.51 341.32 L227.86 341.32 L228.22 341.32 L228.57 341.32 L228.92 341.32 L229.27 341.31 L229.63 341.31 L229.98 341.31 L230.33 341.31 L230.68 341.30 L231.04 341.30 L231.39 341.30 L231.74 341.30 L232.10 341.30 L232.45 341.29 L232.80 341.29 L233.15 341.29 L233.51 341.29 L233.86 341.28 L234.21 341.28 L234.56 341.28 L234.92 341.28 L235.27 341.27 L235.62 341.27 L235.97 341.27 L236.33 341.27 L236.68 341.27 L237.03 341.26 L237.38 341.26 L237.74 341.26 L238.09 341.26 L238.44 341.25 L238.80 341.25 L239.15 341.25 L239.50 341.25 L239.85 341.24 L240.21 341.24 L240.56 341.24 L240.91 341.24 L241.26 341.23 L241.62 341.23 L241.97 341.23 L242.32 341.23 L242.67 341.22 L243.03 341.22 L243.38 341.22 L243.73 341.22 L244.08 341.21 L244.44 341.21 L244.79 341.21 L245.14 341.21 L245.49 341.20 L245.85 341.20 L246.20 341.20 L246.55 341.20 L246.91 341.19 L247.26 341.19 L247.61 341.19 L247.96 341.19 L248.32 341.18 L248.67 341.18 L249.02 341.18 L249.37 341.18 L249.73 341.17 L250.08 341.17 L250.43 341.17 L250.78 341.17 L251.14 341.16 L251.49 341.16 L251.84 341.16 L252.19 341.16 L252.55 341.15 L252.90 341.15 L253.25 341.15 L253.61 341.15 L253.96 341.14 L254.31 341.14 L254.66 341.14 L255.02 341.13 L255.37 341.13 L255.72 341.13 L256.07 341.13 L256.43 341.12 L256.78 341.12 L257.13 341.12 L257.48 341.12 L257.84 341.11 L258.19 341.11 L258.54 341.11 L258.89 341.10 L259.25 341.10 L259.60 341.10 L259.95 341.10 L260.31 341.09 L260.66 341.09 L261.01 341.09 L261.36 341.08 L261.72 341.08 L262.07 341.08 L262.42 341.08 L262.77 341.07 L263.13 341.07 L263.48 341.07 L263.83 341.06 L264.18 341.06 L264.54 341.06 L264.89 341.05 L265.24 341.05 L265.59 341.05 L265.95 341.05 L266.30 341.04 L266.65 341.04 L267.01 341.04 L267.36 341.03 L267.71 341.03 L268.06 341.03 L268.42 341.02 L268.77 341.02 L269.12 341.02 L269.47 341.02 L269.83 341.01 L270.18 341.01 L270.53 341.01 L270.88 341.00 L271.24 341.00 L271.59 341.00 L271.94 340.99 L272.29 340.99 L272.65 340.99 L273.00 340.98 L273.35 340.98 L273.70 340.98 L274.06 340.97 L274.41 340.97 L274.76 340.97 L275.12 340.96 L275.47 340.96 L275.82 340.96 L276.17 340.95 L276.53 340.95 L276.88 340.95 L277.23 340.94 L277.58 340.94 L277.94 340.94 L278.29 340.93 L278.64 340.93 L278.99 340.93 L279.35 340.92 L279.70 340.92 L280.05 340.92 L280.40 340.91 L280.76 340.91 L281.11 340.91 L281.46 340.90 L281.82 340.90 L282.17 340.90 L282.52 340.89 L282.87 340.89 L283.23 340.88 L283.58 340.88 L283.93 340.88 L284.28 340.87 L284.64 340.87 L284.99 340.87 L285.34 340.86 L285.69 340.86 L286.05 340.86 L286.40 340.85 L286.75 340.85 L287.10 340.84 L287.46 340.84 L287.81 340.84 L288.16 340.83 L288.52 340.83 L288.87 340.83 L289.22 340.82 L289.57 340.82 L289.93 340.81 L290.28 340.81 L290.63 340.81 L290.98 340.80 L291.34 340.80 L291.69 340.79 L292.04 340.79 L292.39 340.79 L292.75 340.78 L293.10 340.78 L293.45 340.77 L293.80 340.77 L294.16 340.77 L294.51 340.76 L294.86 340.76 L295.22 340.75 L295.57 340.75 L295.92 340.75 L296.27 340.74 L296.63 340.74 L296.98 340.73 L297.33 340.73 L297.68 340.72 L298.04 340.72 L298.39 340.72 L298.74 340.71 L299.09 340.71 L299.45 340.70 L299.80 340.70 L300.15 340.69 L300.50 340.69 L300.86 340.68 L301.21 340.68 L301.56 340.68 L301.91 340.67 L302.27 340.67 L302.62 340.66 L302.97 340.66 L303.33 340.65 L303.68 340.65 L304.03 340.64 L304.38 340.64 L304.74 340.63 L305.09 340.63 L305.44 340.62 L305.79 340.62 L306.15 340.62 L306.50 340.61 L306.85 340.61 L307.20 340.60 L307.56 340.60 L307.91 340.59 L308.26 340.59 L308.61 340.58 L308.97 340.58 L309.32 340.57 L309.67 340.57 L310.03 340.56 L310.38 340.56 L310.73 340.55 L311.08 340.55 L311.44 340.54 L311.79 340.54 L312.14 340.53 L312.49 340.52 L312.85 340.52 L313.20 340.51 L313.55 340.51 L313.90 340.50 L314.26 340.50 L314.61 340.49 L314.96 340.49 L315.31 340.48 L315.67 340.48 L316.02 340.47 L316.37 340.47 L316.73 340.46 L317.08 340.45 L317.43 340.45 L317.78 340.44 L318.14 340.44 L318.49 340.43 L318.84 340.43 L319.19 340.42 L319.55 340.41 L319.90 340.41 L320.25 340.40 L320.60 340.40 L320.96 340.39 L321.31 340.38 L321.66 340.38 L322.01 340.37 L322.37 340.37 L322.72 340.36 L323.07 340.35 L323.43 340.35 L323.78 340.34 L324.13 340.33 L324.48 340.33 L324.84 340.32 L325.19 340.32 L325.54 340.31 L325.89 340.30 L326.25 340.30 L326.60 340.29 L326.95 340.28 L327.30 340.28 L327.66 340.27 L328.01 340.26 L328.36 340.26 L328.71 340.25 L329.07 340.24 L329.42 340.24 L329.77 340.23 L330.13 340.22 L330.48 340.21 L330.83 340.21 L331.18 340.20 L331.54 340.19 L331.89 340.19 L332.24 340.18 L332.59 340.17 L332.95 340.16 L333.30 340.16 L333.65 340.15 L334.00 340.14 L334.36 340.13 L334.71 340.13 L335.06 340.12 L335.41 340.11 L335.77 340.10 L336.12 340.09 L336.47 340.09 L336.82 340.08 L337.18 340.07 L337.53 340.06 L337.88 340.05 L338.24 340.05 L338.59 340.04 L338.94 340.03 L339.29 340.02 L339.65 340.01 L340.00 340.01 L340.35 340.00 L340.70 339.99 L341.06 339.98 L341.41 339.97 L341.76 339.96 L342.11 339.95 L342.47 339.94 L342.82 339.94 L343.17 339.93 L343.52 339.92 L343.88 339.91 L344.23 339.90 L344.58 339.89 L344.94 339.88 L345.29 339.87 L345.64 339.86 L345.99 339.85 L346.35 339.84 L346.70 339.83 L347.05 339.82 L347.40 339.81 L347.76 339.80 L348.11 339.79 L348.46 339.78 L348.81 339.77 L349.17 339.76 L349.52 339.75 L349.87 339.74 L350.22 339.73 L350.58 339.72 L350.93 339.71 L351.28 339.70 L351.64 339.69 L351.99 339.68 L352.34 339.67 L352.69 339.65 L353.05 339.64 L353.40 339.63 L353.75 339.62 L354.10 339.61 L354.46 339.60 L354.81 339.59 L355.16 339.57 L355.51 339.56 L355.87 339.55 L356.22 339.54 L356.57 339.53 L356.92 339.51 L357.28 339.50 L357.63 339.49 L357.98 339.48 L358.34 339.46 L358.69 339.45 L359.04 339.44 L359.39 339.42 L359.75 339.41 L360.10 339.40 L360.45 339.38 L360.80 339.37 L361.16 339.36 L361.51 339.34 L361.86 339.33 L362.21 339.31 L362.57 339.30 L362.92 339.28 L363.27 339.27 L363.62 339.26 L363.98 339.24 L364.33 339.23 L364.68 339.21 L365.03 339.19 L365.39 339.18 L365.74 339.16 L366.09 339.15 L366.45 339.13 L366.80 339.12 L367.15 339.10 L367.50 339.08 L367.86 339.07 L368.21 339.05 L368.56 339.03 L368.91 339.02 L369.27 339.00 L369.62 338.98 L369.97 338.96 L370.32 338.94 L370.68 338.93 L371.03 338.91 L371.38 338.89 L371.73 338.87 L372.09 338.85 L372.44 338.83 L372.79 338.81 L373.15 338.79 L373.50 338.77 L373.85 338.75 L374.20 338.73 L374.56 338.71 L374.91 338.69 L375.26 338.67 L375.61 338.65 L375.97 338.63 L376.32 338.61 L376.67 338.58 L377.02 338.56 L377.38 338.54 L377.73 338.52 L378.08 338.49 L378.43 338.47 L378.79 338.45 L379.14 338.42 L379.49 338.40 L379.85 338.37 L380.20 338.35 L380.55 338.32 L380.90 338.30 L381.26 338.27 L381.61 338.24 L381.96 338.22 L382.31 338.19 L382.67 338.16 L383.02 338.14 L383.37 338.11 L383.72 338.08 L384.08 338.05 L384.43 338.02 L384.78 337.99 L385.13 337.96 L385.49 337.93 L385.84 337.90 L386.19 337.87 L386.55 337.83 L386.90 337.80 L387.25 337.77 L387.60 337.73 L387.96 337.70 L388.31 337.67 L388.66 337.63 L389.01 337.60 L389.37 337.56 L389.72 337.52 L390.07 337.48 L390.42 337.45 L390.78 337.41 L391.13 337.37 L391.48 337.33 L391.83 337.29 L392.19 337.25 L392.54 337.20 L392.89 337.16 L393.24 337.12 L393.60 337.07 L393.95 337.03 L394.30 336.98 L394.66 336.94 L395.01 336.89 L395.36 336.84 L395.71 336.79 L396.07 336.74 L396.42 336.69 L396.77 336.64 L397.12 336.58 L397.48 336.53 L397.83 336.47 L398.18 336.42 L398.53 336.36 L398.89 336.30 L399.24 336.24 L399.59 336.18 L399.94 336.12 L400.30 336.05 L400.65 335.99 L401.00 335.92 L401.36 335.85 L401.71 335.78 L402.06 335.71 L402.41 335.64 L402.77 335.57 L403.12 335.49 L403.47 335.41 L403.82 335.33 L404.18 335.25 L404.53 335.17 L404.88 335.08 L405.23 334.99 L405.59 334.90 L405.94 334.81 L406.29 334.71 L406.64 334.62 L407.00 334.52 L407.35 334.41 L407.70 334.31 L408.06 334.20 L408.41 334.09 L408.76 333.97 L409.11 333.86 L409.47 333.73 L409.82 333.61 L410.17 333.48 L410.52 333.35 L410.88 333.21 L411.23 333.07 L411.58 332.92 L411.93 332.77 L412.29 332.62 L412.64 332.45 L412.99 332.29 L413.34 332.11 L413.70 331.94 L414.05 331.75 L414.40 331.56 L414.76 331.36 L415.11 331.15 L415.46 330.93 L415.81 330.71 L416.17 330.48 L416.52 330.23 L416.87 329.98 L417.22 329.71 L417.58 329.44 L417.93 329.15 L418.28 328.84 L418.63 328.53 L418.99 328.19 L419.34 327.84 L419.69 327.47 L420.04 327.09 L420.40 326.68 L420.75 326.24 L421.10 325.79 L421.45 325.30 L421.81 324.79 L422.16 324.24 L422.51 323.66 L422.87 323.04 L423.22 322.37 L423.57 321.66 L423.92 320.89 L424.28 320.06 L424.63 319.16 L424.98 318.19 L425.33 317.13 L425.69 315.98 L426.04 314.71 L426.39 313.31 L426.74 311.76 L427.10 310.04 L427.45 308.10 L427.80 305.92 L428.15 303.43 L428.51 300.59 L428.86 297.28 L429.21 293.41 L429.57 288.80 L429.92 283.24 L430.27 276.38 L430.62 267.72 L430.98 256.45 L431.33 241.20 L431.68 219.50 L432.03 186.45 L432.39 132.00" stroke="#f00"/>
</g>
<g fill="none" stroke="#000" stroke-width="1.111">
<path d="M63.5 356.5 V48.5 M450.5 356.5 V48.5 M63.5 356.5 H450.5 M63.5 48.5 H450.5" stroke-linecap="square"/>
<path d="M80.5 356.5 V361.36 M151.5 356.5 V361.36 M221.5 356.5 V361.36 M292.5 356.5 V361.36 M362.5 356.5 V361.36 M433.5 356.5 V361.36 M63.5 342.5 H58.64 M63.5 286.5 H58.64 M63.5 230.5 H58.64 M63.5 174.5 H58.64 M63.5 118.5 H58.64 M63.5 62.5 H58.64"/>
</g>
<g fill="#000" fill-opacity="0.055" shape-rendering="crispEdges">
<rect x="62.94" y="47" width="388.12" height="1"/>
<rect x="62.94" y="49" width="388.12" height="1"/>
<rect x="62.94" y="355" width="388.12" height="1"/>
<rect x="62.94" y="357" width="388.12" height="1"/>
<rect x="58.64" y="341" width="4.3" height="1"/><rect x="58.64" y="343" width="4.3" height="1"/>
<rect x="58.64" y="285" width="4.3" height="1"/><rect x="58.64" y="287" width="4.3" height="1"/>
<rect x="58.64" y="229" width="4.3" height="1"/><rect x="58.64" y="231" width="4.3" height="1"/>
<rect x="58.64" y="173" width="4.3" height="1"/><rect x="58.64" y="175" width="4.3" height="1"/>
<rect x="58.64" y="117" width="4.3" height="1"/><rect x="58.64" y="119" width="4.3" height="1"/>
<rect x="58.64" y="61" width="4.3" height="1"/><rect x="58.64" y="63" width="4.3" height="1"/>
</g>
<g class="tk">
<text x="69.93 77.64 81.93" y="377.35">0.0</text>
<text x="140.97 148.68 152.97" y="377.35">0.2</text>
<text x="210.94 218.65 222.94" y="377.35">0.4</text>
<text x="281.90 289.74 294.16" y="377.35">0.6</text>
<text x="351.89 359.73 364.15" y="377.35">0.8</text>
<text x="421.96 429.68 434.22" y="377.35">1.0</text>
<text x="31.94 39.66 43.95" y="348.37">0.0</text>
<text x="31.95 39.66 43.95" y="292.32">0.2</text>
<text x="31.89 39.73 43.90" y="236.30">0.4</text>
<text x="31.95 39.66 44.20" y="180.39">0.6</text>
<text x="31.92 39.64 44.18" y="124.35">0.8</text>
<text x="30.96 38.67 43.21" y="67.32">1.0</text>
</g>
<text x="171.91 185.94 190.95 197.18 203.42 214.73 224.14 229.16 240.20 249.90 257.39 266.67 273.75 284.98 294.69 302.18 309.23 316.18 322.14 333.42" y="395.28" font-size="18.056">Diffusion step (t/T)</text>
<g font-style="oblique"><text transform="translate(17.561 211.879) rotate(-90)" font-size="19.444">β</text><text transform="translate(20.501 199.970) rotate(-90)" font-size="13.611">t</text></g>
<rect x="72.50" y="58.50" width="212.00" height="92.00" rx="3.89" ry="3.89" fill="#fff" fill-opacity="0.8" stroke="#ccc" stroke-opacity="0.8" stroke-width="1.389"/>
<g fill="none" stroke-width="2.083" stroke-linecap="square">
<path d="M80.00 74.00 H119.00" stroke="#000"/>
<path d="M80.00 102.00 H119.00" stroke="#00f"/>
<path d="M80.00 131.00 H119.00" stroke="#f00"/>
</g>
<g fill-opacity="0.042" shape-rendering="crispEdges">
<rect x="78.96" y="72" width="41.08" height="1" fill="#000"/><rect x="78.96" y="75" width="41.08" height="1" fill="#000"/>
<rect x="78.96" y="100" width="41.08" height="1" fill="#00f"/><rect x="78.96" y="103" width="41.08" height="1" fill="#00f"/>
<rect x="78.96" y="129" width="41.08" height="1" fill="#f00"/><rect x="78.96" y="132" width="41.08" height="1" fill="#f00"/>
</g>
<g class="lg">
<text x="134.94 139.47 145.00 157.20 169.16 180.95" y="80.27">linear</text>
<text x="134.94 139.47 149.73" y="108.82">jsd</text>
<text x="133.94 146.14 158.23 172.26 180.44 190.69 201.13 213.46 225.67 237.89 250.21 255.74 267.70" y="138.38">new scheduler</text>
</g>
</svg>
</body>
</html>
